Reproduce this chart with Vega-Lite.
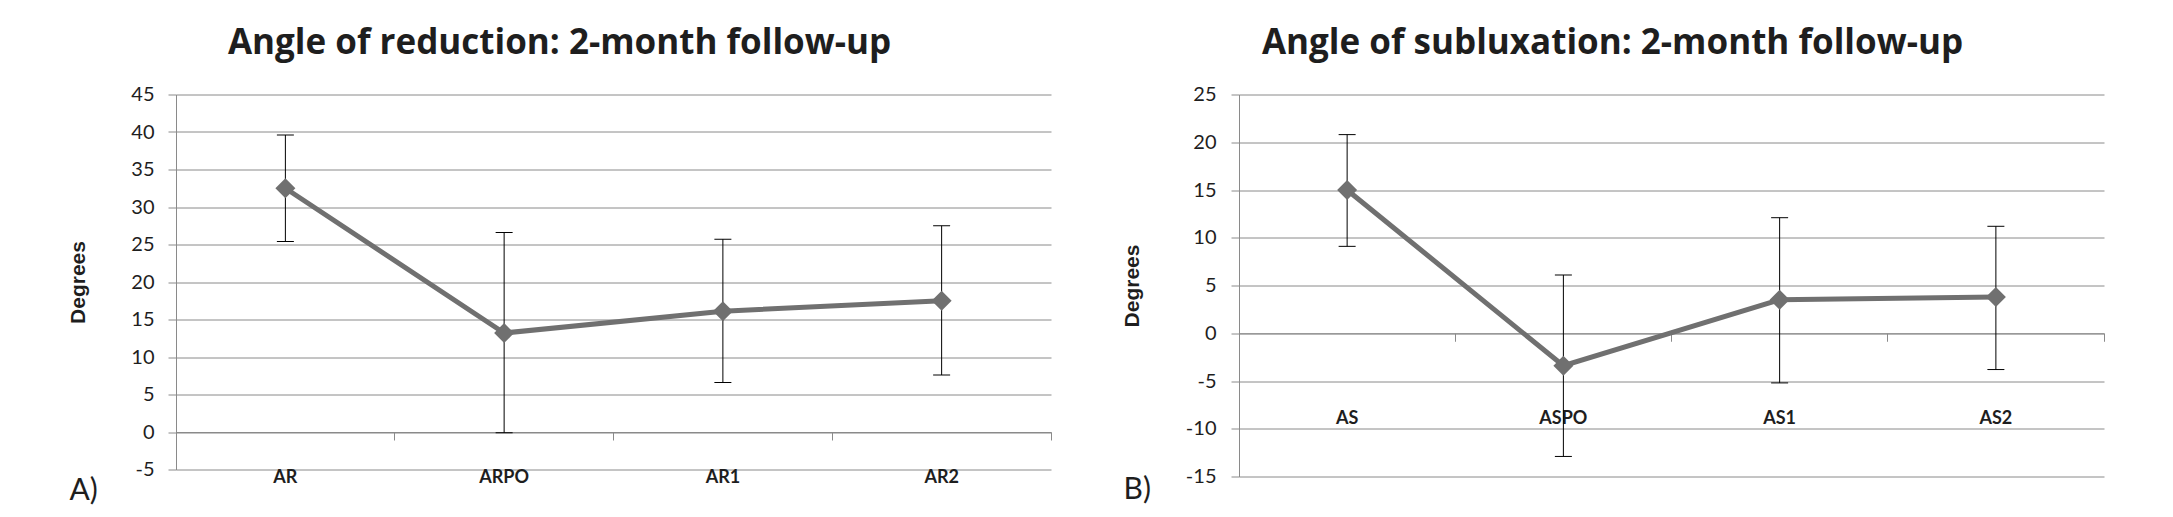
{
  "$schema": "https://vega.github.io/schema/vega-lite/v6.json",
  "background": "white",
  "padding": {"left": 67, "top": 25.5, "right": 0, "bottom": 0},
  "spacing": 69,
  "bounds": "full",
  "config": {
    "view": {"stroke": null},
    "font": "Lato",
    "axis": {
      "domainColor": "#8a8a8a",
      "tickColor": "#8a8a8a",
      "gridColor": "#8a8a8a",
      "gridOpacity": 1,
      "labelColor": "#1e1e1e",
      "titleColor": "#1e1e1e",
      "tickSize": 8
    }
  },
  "hconcat": [
    {
      "width": 875,
      "height": 375,
      "title": {"text": "Angle of reduction: 2-month follow-up", "font": "Open Sans", "fontSize": 35, "fontWeight": "bold", "color": "#1e1e1e", "anchor": "middle", "dx": -54, "offset": 23.5},
      "data": {"values": [
        {"cat": "AR", "mean": 32.5, "lo": 25.4, "hi": 39.6},
        {"cat": "ARPO", "mean": 13.2, "lo": -0.1, "hi": 26.6},
        {"cat": "AR1", "mean": 16.1, "lo": 6.6, "hi": 25.7},
        {"cat": "AR2", "mean": 17.5, "lo": 7.6, "hi": 27.5}
      ]},
      "encoding": {
        "x": {"field": "cat", "type": "nominal", "sort": null,
          "scale": {"type": "band", "paddingInner": 0, "paddingOuter": 0},
          "axis": {"orient": "bottom", "offset": -37.5, "bandPosition": 1,
            "labelAngle": 0, "labelFont": "Lato", "labelFontSize": 18, "labelFontWeight": "bold", "labelPadding": 28.5,
            "title": "A)", "titleFont": "Lato", "titleFontSize": 30, "titleFontWeight": "normal",
            "titleX": -107, "titleY": 67, "titleAlign": "left", "titleBaseline": "alphabetic", "titleAnchor": null, "grid": false}}
      },
      "layer": [
        {"mark": {"type": "rule", "color": "black", "strokeWidth": 1},
          "encoding": {
            "y": {"field": "lo", "type": "quantitative",
              "scale": {"domain": [-5, 45], "nice": false, "zero": false},
              "axis": {"values": [-5, 0, 5, 10, 15, 20, 25, 30, 35, 40, 45], "grid": true, "labelOverlap": false,
                "labelExpr": "'' + datum.value",
                "labelFont": "Lato", "labelFontSize": 20, "labelPadding": 14,
                "title": "Degrees", "titleFont": "Liberation Sans", "titleFontSize": 21, "titleFontWeight": "bold", "titlePadding": 42}},
            "y2": {"field": "hi"}}},
        {"mark": {"type": "tick", "color": "black", "thickness": 1, "size": 17, "opacity": 1},
          "encoding": {"y": {"field": "hi", "type": "quantitative",
              "axis": {"values": [-5, 0, 5, 10, 15, 20, 25, 30, 35, 40, 45], "grid": true, "labelOverlap": false,
                "labelExpr": "'' + datum.value",
                "labelFont": "Lato", "labelFontSize": 20, "labelPadding": 14,
                "title": "Degrees", "titleFont": "Liberation Sans", "titleFontSize": 21, "titleFontWeight": "bold", "titlePadding": 42}}}},
        {"mark": {"type": "tick", "color": "black", "thickness": 1, "size": 17, "opacity": 1},
          "encoding": {"y": {"field": "lo", "type": "quantitative",
              "axis": {"values": [-5, 0, 5, 10, 15, 20, 25, 30, 35, 40, 45], "grid": true, "labelOverlap": false,
                "labelExpr": "'' + datum.value",
                "labelFont": "Lato", "labelFontSize": 20, "labelPadding": 14,
                "title": "Degrees", "titleFont": "Liberation Sans", "titleFontSize": 21, "titleFontWeight": "bold", "titlePadding": 42}}}},
        {"mark": {"type": "line", "color": "#707070", "strokeWidth": 5},
          "encoding": {"y": {"field": "mean", "type": "quantitative",
              "axis": {"values": [-5, 0, 5, 10, 15, 20, 25, 30, 35, 40, 45], "grid": true, "labelOverlap": false,
                "labelExpr": "'' + datum.value",
                "labelFont": "Lato", "labelFontSize": 20, "labelPadding": 14,
                "title": "Degrees", "titleFont": "Liberation Sans", "titleFontSize": 21, "titleFontWeight": "bold", "titlePadding": 42}}}},
        {"mark": {"type": "point", "shape": "diamond", "filled": true, "size": 400, "color": "#707070", "opacity": 1},
          "encoding": {"y": {"field": "mean", "type": "quantitative",
              "axis": {"values": [-5, 0, 5, 10, 15, 20, 25, 30, 35, 40, 45], "grid": true, "labelOverlap": false,
                "labelExpr": "'' + datum.value",
                "labelFont": "Lato", "labelFontSize": 20, "labelPadding": 14,
                "title": "Degrees", "titleFont": "Liberation Sans", "titleFontSize": 21, "titleFontWeight": "bold", "titlePadding": 42}}}}
      ]
    },
    {
      "width": 865,
      "height": 382,
      "title": {"text": "Angle of subluxation: 2-month follow-up", "font": "Open Sans", "fontSize": 35, "fontWeight": "bold", "color": "#1e1e1e", "anchor": "middle", "dx": -59, "offset": 23.5},
      "data": {"values": [
        {"cat": "AS", "mean": 15.0, "lo": 9.1, "hi": 20.8},
        {"cat": "ASPO", "mean": -3.4, "lo": -12.9, "hi": 6.1},
        {"cat": "AS1", "mean": 3.5, "lo": -5.2, "hi": 12.1},
        {"cat": "AS2", "mean": 3.8, "lo": -3.8, "hi": 11.2}
      ]},
      "encoding": {
        "x": {"field": "cat", "type": "nominal", "sort": null,
          "scale": {"type": "band", "paddingInner": 0, "paddingOuter": 0},
          "axis": {"orient": "bottom", "offset": -143.25, "bandPosition": 1,
            "labelAngle": 0, "labelFont": "Lato", "labelFontSize": 18, "labelFontWeight": "bold", "labelPadding": 68,
            "title": "B)", "titleFont": "Lato", "titleFontSize": 30, "titleFontWeight": "normal",
            "titleX": -116, "titleY": 165, "titleAlign": "left", "titleBaseline": "alphabetic", "titleAnchor": null, "grid": false}}
      },
      "layer": [
        {"mark": {"type": "rule", "color": "black", "strokeWidth": 1},
          "encoding": {
            "y": {"field": "lo", "type": "quantitative",
              "scale": {"domain": [-15, 25], "nice": false, "zero": false},
              "axis": {"values": [-15, -10, -5, 0, 5, 10, 15, 20, 25], "grid": true, "labelOverlap": false,
                "labelExpr": "'' + datum.value",
                "labelFont": "Lato", "labelFontSize": 20, "labelPadding": 15,
                "title": "Degrees", "titleFont": "Liberation Sans", "titleFontSize": 21, "titleFontWeight": "bold", "titlePadding": 43}},
            "y2": {"field": "hi"}}},
        {"mark": {"type": "tick", "color": "black", "thickness": 1, "size": 17, "opacity": 1},
          "encoding": {"y": {"field": "hi", "type": "quantitative",
              "axis": {"values": [-15, -10, -5, 0, 5, 10, 15, 20, 25], "grid": true, "labelOverlap": false,
                "labelExpr": "'' + datum.value",
                "labelFont": "Lato", "labelFontSize": 20, "labelPadding": 15,
                "title": "Degrees", "titleFont": "Liberation Sans", "titleFontSize": 21, "titleFontWeight": "bold", "titlePadding": 43}}}},
        {"mark": {"type": "tick", "color": "black", "thickness": 1, "size": 17, "opacity": 1},
          "encoding": {"y": {"field": "lo", "type": "quantitative",
              "axis": {"values": [-15, -10, -5, 0, 5, 10, 15, 20, 25], "grid": true, "labelOverlap": false,
                "labelExpr": "'' + datum.value",
                "labelFont": "Lato", "labelFontSize": 20, "labelPadding": 15,
                "title": "Degrees", "titleFont": "Liberation Sans", "titleFontSize": 21, "titleFontWeight": "bold", "titlePadding": 43}}}},
        {"mark": {"type": "line", "color": "#707070", "strokeWidth": 5},
          "encoding": {"y": {"field": "mean", "type": "quantitative",
              "axis": {"values": [-15, -10, -5, 0, 5, 10, 15, 20, 25], "grid": true, "labelOverlap": false,
                "labelExpr": "'' + datum.value",
                "labelFont": "Lato", "labelFontSize": 20, "labelPadding": 15,
                "title": "Degrees", "titleFont": "Liberation Sans", "titleFontSize": 21, "titleFontWeight": "bold", "titlePadding": 43}}}},
        {"mark": {"type": "point", "shape": "diamond", "filled": true, "size": 400, "color": "#707070", "opacity": 1},
          "encoding": {"y": {"field": "mean", "type": "quantitative",
              "axis": {"values": [-15, -10, -5, 0, 5, 10, 15, 20, 25], "grid": true, "labelOverlap": false,
                "labelExpr": "'' + datum.value",
                "labelFont": "Lato", "labelFontSize": 20, "labelPadding": 15,
                "title": "Degrees", "titleFont": "Liberation Sans", "titleFontSize": 21, "titleFontWeight": "bold", "titlePadding": 43}}}}
      ]
    }
  ]
}
